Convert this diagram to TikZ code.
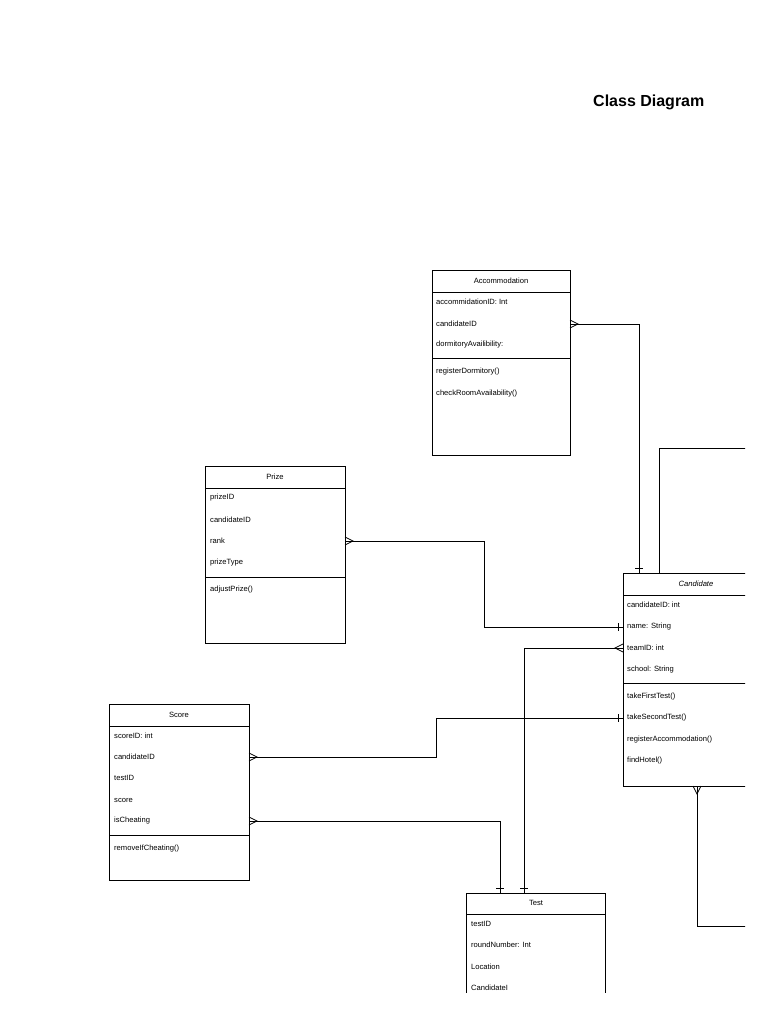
\documentclass[tikz,border=0pt]{standalone}
\usepackage{fontspec}
\setmainfont{Liberation Sans}
\usetikzlibrary{calc}
\begin{document}
\begin{tikzpicture}[x=1pt,y=-1pt,
  cls/.style={draw,line width=0.8pt,rectangle,anchor=north west,inner sep=0pt},
  row/.style={anchor=west,inner sep=0pt,font=\fontsize{7.6}{9}\selectfont},
  hdr/.style={anchor=center,inner sep=0pt,font=\fontsize{7.6}{9}\selectfont},
  conn/.style={line width=0.8pt},
  tick/.style={line width=0.8pt}]
\useasboundingbox (0,0) rectangle (768,1024);
\begin{scope}
\clip (0,0) rectangle (745,992);
\node[font=\bfseries\fontsize{16}{18}\selectfont,anchor=west,inner sep=0pt] (title) at (593,102) {Class Diagram};
% Accommodation
\node[cls,minimum width=138pt,minimum height=185pt] (acc) at (432,270) {};
\draw[line width=0.8pt] (432,292) -- (570,292) (432,358) -- (570,358);
\node[hdr] (acch) at (501,281) {Accommodation};
\node[row] (acc1) at (436,302) {accommidationID: Int};
\node[row] (acc2) at (436,324) {candidateID};
\node[row] (acc3) at (436,345) {dormitoryAvailibility:};
\node[row] (acc4) at (436,372) {registerDormitory()};
\node[row] (acc5) at (436,394) {checkRoomAvailability()};
% Prize
\node[cls,minimum width=140pt,minimum height=177pt] (pri) at (205,466) {};
\draw[line width=0.8pt] (205,488) -- (345,488) (205,577) -- (345,577);
\node[hdr] (prih) at (275,477) {Prize};
\node[row] (pri1) at (210,498) {prizeID};
\node[row] (pri2) at (210,520) {candidateID};
\node[row] (pri3) at (210,541) {rank};
\node[row] (pri4) at (210,563) {prizeType};
\node[row] (pri5) at (210,590) {adjustPrize()};
% Candidate
\node[cls,minimum width=150pt,minimum height=213pt] (can) at (623,573) {};
\draw[line width=0.8pt] (623,595) -- (773,595) (623,683) -- (773,683);
\node[hdr,font=\itshape\fontsize{7.6}{9}\selectfont] (canh) at (696,584) {Candidate};
\node[row] (can1) at (627,605) {candidateID: int};
\node[row] (can2) at (627,627) {name: String};
\node[row] (can3) at (627,648) {teamID: int};
\node[row] (can4) at (627,670) {school: String};
\node[row] (can5) at (627,697) {takeFirstTest()};
\node[row] (can6) at (627,718) {takeSecondTest()};
\node[row] (can7) at (627,740) {registerAccommodation()};
\node[row] (can8) at (627,761) {findHotel()};
% Score
\node[cls,minimum width=140pt,minimum height=176pt] (sco) at (109,704) {};
\draw[line width=0.8pt] (109,726) -- (249,726) (109,835) -- (249,835);
\node[hdr] (scoh) at (179,715) {Score};
\node[row] (sco1) at (114,736) {scoreID: int};
\node[row] (sco2) at (114,757) {candidateID};
\node[row] (sco3) at (114,778) {testID};
\node[row] (sco4) at (114,800) {score};
\node[row] (sco5) at (114,821) {isCheating};
\node[row] (sco6) at (114,849) {removeIfCheating()};
% Test
\node[cls,minimum width=139pt,minimum height=130pt] (tes) at (466,893) {};
\draw[line width=0.8pt] (466,914) -- (605,914);
\node[hdr] (tesh) at (536,903) {Test};
\node[row] (tes1) at (471,924) {testID};
\node[row] (tes2) at (471,945) {roundNumber: Int};
\node[row] (tes3) at (471,967) {Location};
\node[row] (tes4) at (471,988) {CandidateI};
% off-page ends
\coordinate (offA) at (760,448);
\coordinate (offB) at (760,926);
% connectors
\draw[conn] (acc.east |- acc2) -- (639,324) -- (639,573);
\draw[tick] (570,320) -- (578,324) -- (570,328);
\draw[tick] (635,568) -- (643,568);
\draw[conn] (659,573) -- (659,448) -- (offA);
\draw[conn] (pri.east |- pri3) -- (484,541) -- (484,627) -- (can.west |- can2);
\draw[tick] (345,537) -- (353,541) -- (345,545);
\draw[tick] (618,623) -- (618,631);
\draw[conn] (can.west |- can3) -- (524,648) -- (524,893);
\draw[tick] (623,644) -- (615,648) -- (623,652);
\draw[tick] (520,888) -- (528,888);
\draw[conn] (sco.east |- sco2) -- (436,757) -- (436,718) -- (can.west |- can6);
\draw[tick] (249,753) -- (257,757) -- (249,761);
\draw[tick] (618,714) -- (618,722);
\draw[conn] (sco.east |- sco5) -- (500,821) -- (500,893);
\draw[tick] (249,817) -- (257,821) -- (249,825);
\draw[tick] (496,888) -- (504,888);
\draw[conn] (697,786) -- (697,926) -- (offB);
\draw[tick] (693,786) -- (697,794) -- (701,786);
\end{scope}
\end{tikzpicture}
\end{document}
